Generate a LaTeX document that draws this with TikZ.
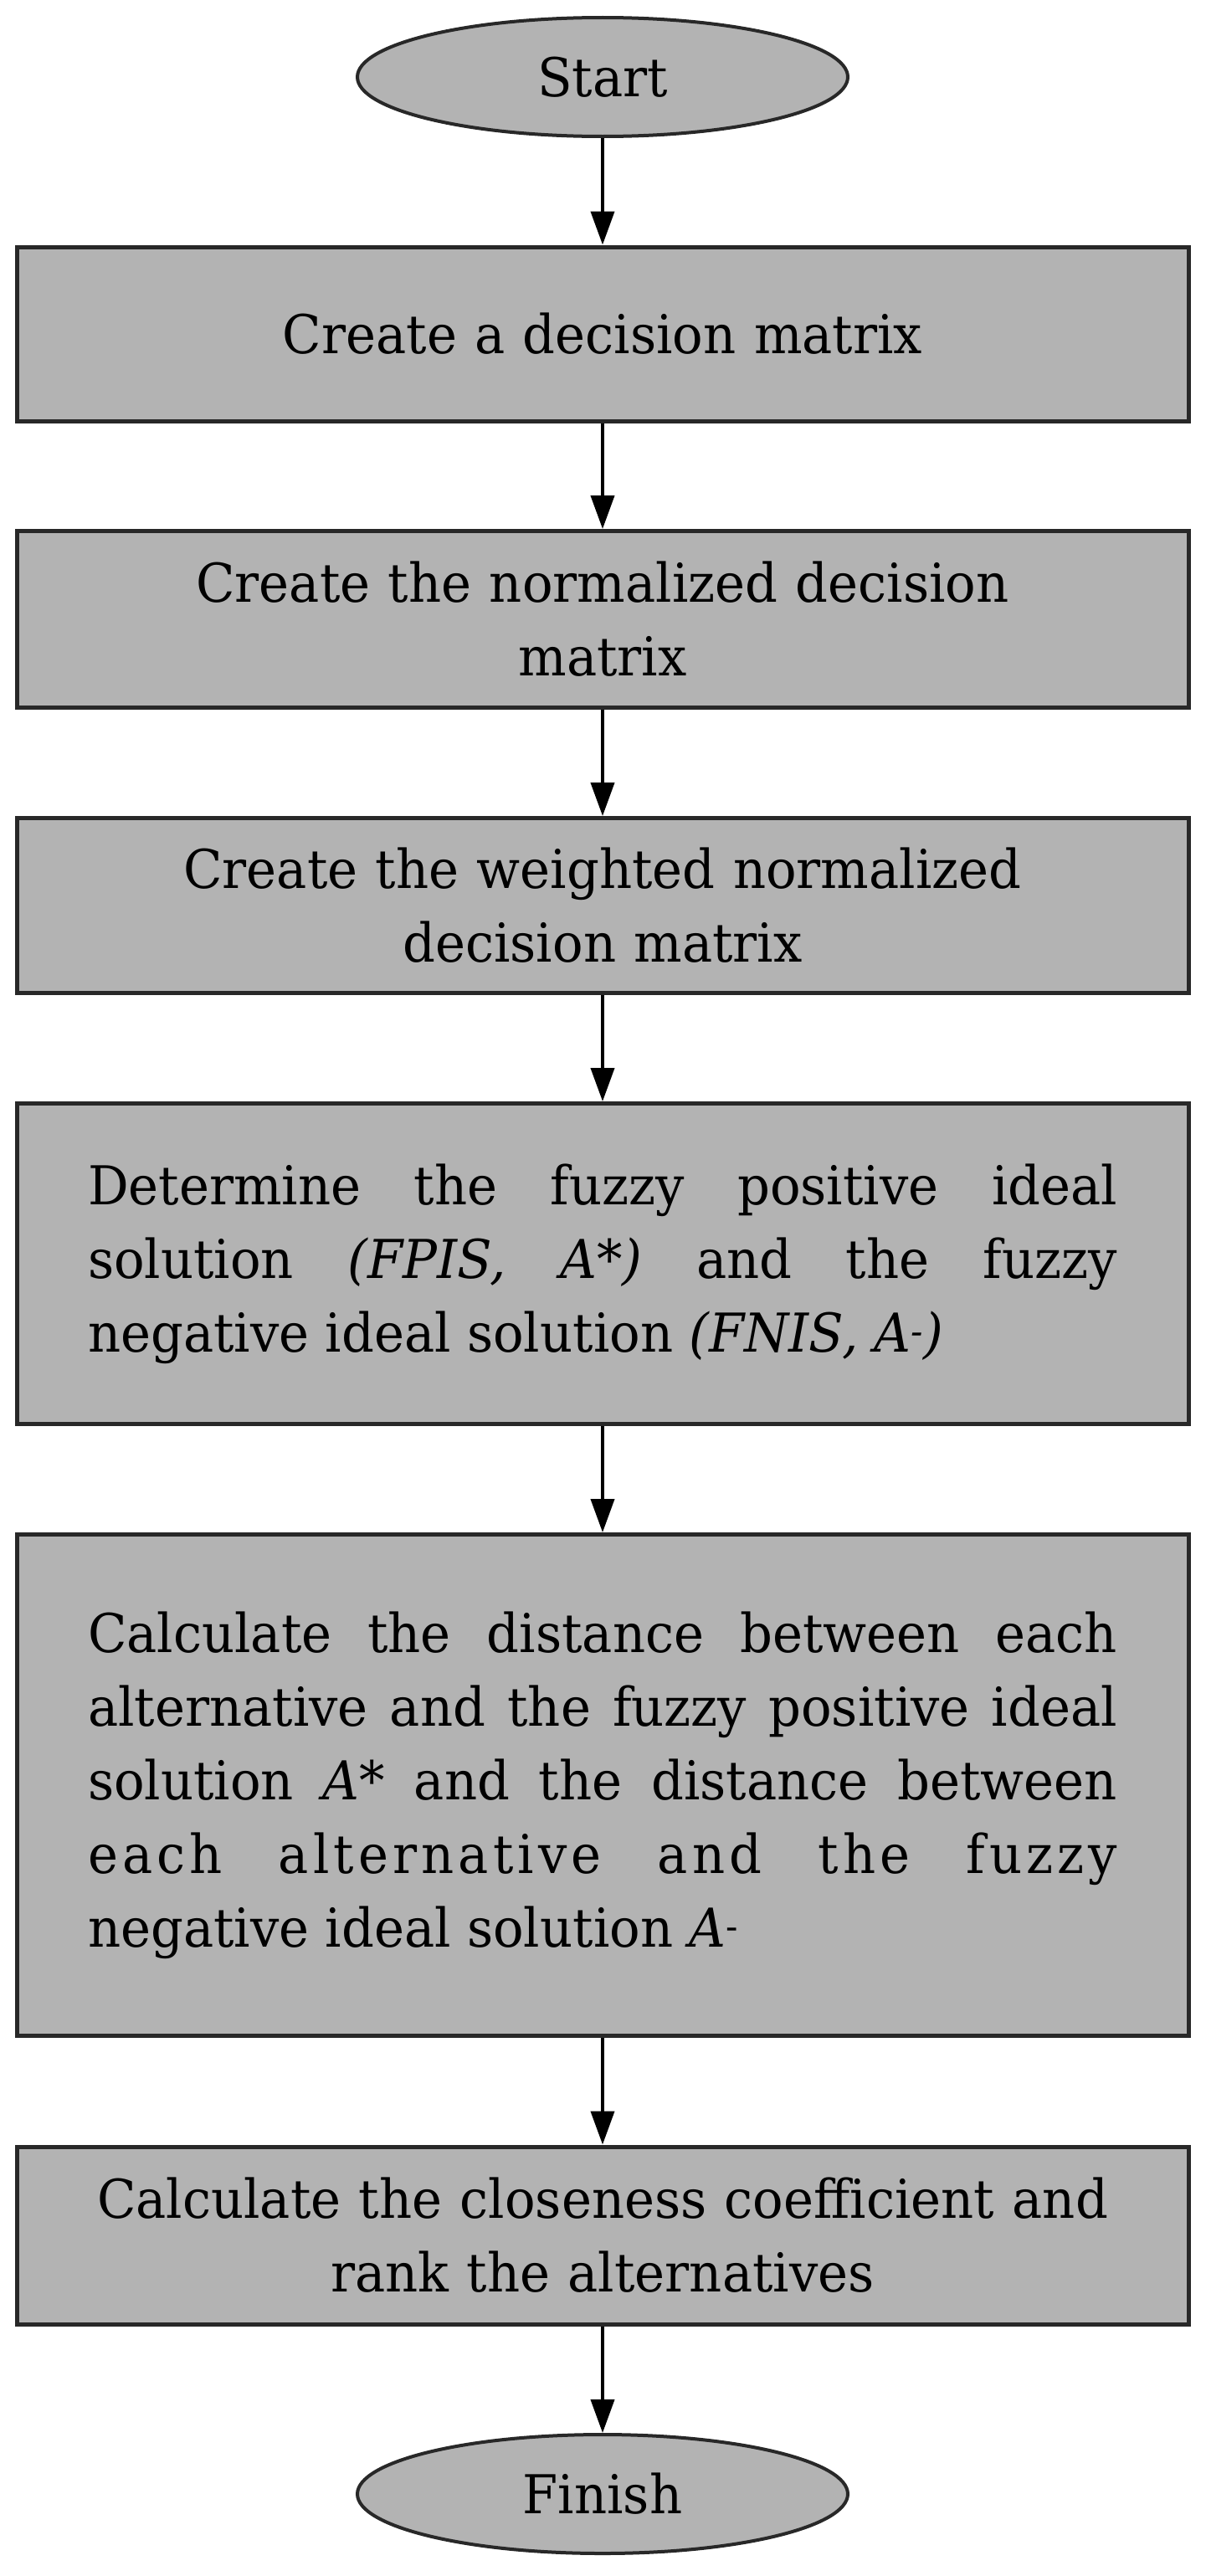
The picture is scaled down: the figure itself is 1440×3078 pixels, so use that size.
\documentclass[tikz,border=0pt]{standalone}
\usepackage{fontspec}
\setmainfont{DejaVu Serif}[FakeStretch=0.95]
\usetikzlibrary{shapes.geometric,arrows.meta}
\definecolor{boxgray}{RGB}{179,179,179}
\definecolor{edgegray}{RGB}{40,40,40}
\newcommand{\boxfont}{\fontsize{64}{88}\selectfont\hyphenpenalty=10000\tolerance=10000\emergencystretch=0pt}
\tikzset{
  stepbox/.style={rectangle, draw=edgegray, line width=5pt, fill=boxgray,
    minimum width=1400pt, inner sep=0pt, text width=1230pt, font=\boxfont},
  centertext/.style={align=center},
  justtext/.style={align=justify},
  termnode/.style={ellipse, draw=edgegray, line width=4pt, fill=boxgray,
    minimum width=586pt, minimum height=142pt, inner sep=0pt, font=\boxfont},
  flow/.style={-{Triangle[length=40pt,width=28pt]}, line width=4pt, draw=black}
}
\begin{document}
\begin{tikzpicture}[x=1pt,y=-1pt]
  \useasboundingbox[fill=white] (0,0) rectangle (1440,3078);

  \node[termnode] (start) at (720,92) {Start};

  \node[stepbox,centertext,minimum height=208pt] (b1) at (720,399)
    {Create a decision matrix};

  \node[stepbox,centertext,minimum height=211pt] (b2) at (720,740)
    {Create the normalized decision\\matrix};

  \node[stepbox,centertext,minimum height=209pt] (b3) at (720,1082)
    {Create the weighted normalized\\decision matrix};

  \node[stepbox,justtext,minimum height=383pt] (b4) at (720,1510)
    {Determine the fuzzy positive ideal\linebreak
     solution \textit{(FPIS, A*)} and the fuzzy\linebreak
     negative ideal solution \textit{(FNIS, A\textsuperscript{-})}};

  \node[stepbox,justtext,minimum height=599pt] (b5) at (720,2133)
    {Calculate the distance between each\linebreak
     alternative and the fuzzy positive ideal\linebreak
     solution \textit{A*} and the distance between\linebreak
     {\addfontfeature{LetterSpace=8}each alternative and the fuzzy}\linebreak
     negative ideal solution \textit{A}\textsuperscript{-}};

  \node[stepbox,centertext,minimum height=212pt] (b6) at (720,2671)
    {Calculate the closeness coefficient and\\rank the alternatives};

  \node[termnode] (finish) at (720,2980) {Finish};

  \draw[flow] (start) -- (b1);
  \draw[flow] (b1) -- (b2);
  \draw[flow] (b2) -- (b3);
  \draw[flow] (b3) -- (b4);
  \draw[flow] (b4) -- (b5);
  \draw[flow] (b5) -- (b6);
  \draw[flow] (b6) -- (finish);
\end{tikzpicture}
\end{document}
